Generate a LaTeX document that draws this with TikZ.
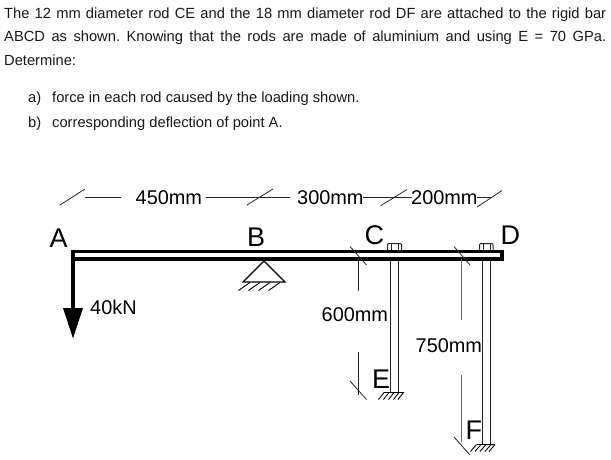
\documentclass[tikz,border=0pt]{standalone}
\usepackage{fontspec}
\setmainfont{Liberation Sans}
\frenchspacing
\begin{document}
\begin{tikzpicture}[x=1pt,y=-1pt,
  txt/.style={anchor=base west,inner sep=0pt,font=\fontsize{14.7}{16}\selectfont,text=black!90},
  dim/.style={inner sep=0pt,font=\fontsize{19.9}{22}\selectfont,anchor=base west,text=black},
  ptlabel/.style={inner sep=0pt,font=\fontsize{27}{28}\selectfont,anchor=base west,text=black},
  thinline/.style={line width=0.8pt,black!85},
  grayline/.style={line width=1.2pt,black!60},
  barline/.style={line width=3.3pt,black},
  rodline/.style={line width=1pt,black!85},
  hatchline/.style={line width=0.9pt,black}]
\useasboundingbox (0,0) rectangle (611,459);
\fill[white] (0,0) rectangle (611,459);
% statement
\node[txt] (t1) at (4,18) {\makebox[602pt][s]{The 12 mm diameter rod CE and the 18 mm diameter rod DF are attached to the rigid bar}};
\node[txt] (t2) at (4,41) {\makebox[602pt][s]{ABCD as shown. Knowing that the rods are made of aluminium and using E = 70 GPa.}};
\node[txt] (t3) at (4,65) {Determine:};
\node[txt] (t4) at (28,102) {a)};
\node[txt] (t5) at (52,102) {force in each rod caused by the loading shown.};
\node[txt] (t6) at (28,127) {b)};
\node[txt] (t7) at (52,127) {corresponding deflection of point A.};
% horizontal dimensions
\node[dim] (d1) at (135.5,204) {450mm};
\node[dim] (d2) at (297,204) {300mm};
\node[dim] (d3) at (411,204) {200mm};
\coordinate (k1) at (85,197);
\coordinate (k2) at (121,197);
\coordinate (k3) at (206,197);
\coordinate (k4) at (290,197);
\coordinate (k5) at (363,197);
\coordinate (k6) at (412,197);
\coordinate (k7) at (477,197.5);
\coordinate (k8) at (491,197.5);
\draw[thinline] (k1) -- (k2);
\draw[thinline] (k3) -- (k4);
\draw[thinline] (k5) -- (k6);
\draw[thinline] (k7) -- (k8);
\draw[thinline] (60,205) -- (85,189);
\draw[thinline] (247,205) -- (273,189);
\draw[thinline] (381,205.5) -- (407,189.5);
\draw[thinline] (477,207) -- (502,190.5);
% bar
\draw[barline,line join=miter] (73,251.5) -- (502,251.5) -- (502,259) -- (73,259);
\draw[barline] (73,249.9) -- (73,310);
% load
\fill[black] (63,308) -- (83,308) -- (73,338.5) -- cycle;
\node[dim] (load) at (90,314.5) {40kN};
% point labels
\node[ptlabel] (A) at (49.5,247.5) {A};
\node[ptlabel] (B) at (247,246.5) {B};
\node[ptlabel] (C) at (364.5,244) {C};
\node[ptlabel] (D) at (500.5,244) {D};
\node[ptlabel] (E) at (372,388.5) {E};
\node[ptlabel] (F) at (465.5,439.5) {F};
% support B
\draw[line width=1.4pt,black,line join=miter] (264,261) -- (243,282) -- (285,282) -- cycle;
\foreach \x in {250,260,270,280} \draw[hatchline] (\x,282.5) -- ++(-11.5,8);
% rod CE
\draw[rodline] (390.3,260) -- (390.3,392);
\draw[rodline] (398.7,260) -- (398.7,392);
\draw[rodline,rounded corners=1pt] (387.5,250) -- (387.5,243.5) -- (401.5,243.5) -- (401.5,250);
\draw[rodline] (391,243.5) -- (391,250);
\draw[rodline] (398,243.5) -- (398,250);
\draw[hatchline,line width=1.1pt] (384,392.5) -- (403.5,392.5);
\foreach \x in {384,389,394,399,403.5} \draw[hatchline] (\x,392.5) -- ++(-5.5,7);
% rod DF
\draw[rodline] (482.5,260) -- (482.5,444);
\draw[rodline] (490.3,260) -- (490.3,444);
\draw[rodline,rounded corners=1pt] (479.5,250) -- (479.5,243.5) -- (493,243.5) -- (493,250);
\draw[rodline] (483,243.5) -- (483,250);
\draw[rodline] (490,243.5) -- (490,250);
\draw[hatchline,line width=1.1pt] (476.5,444.5) -- (495,444.5);
\foreach \x in {476.5,481,486,491,495} \draw[hatchline] (\x,444.5) -- ++(-6,7);
% dimension 600 mm
\node[dim] (d4) at (321.5,321) {600mm};
\draw[thinline] (358,259) -- (358,291);
\draw[thinline] (358,352) -- (358,395);
\draw[thinline] (350,246.5) -- (366.5,265);
\draw[thinline] (350,381) -- (366.5,399.5);
% dimension 750 mm
\node[dim] (d5) at (415.5,352) {750mm};
\draw[grayline] (461.7,259) -- (461.7,320);
\draw[grayline] (461.7,375) -- (461.7,442);
\draw[thinline] (454,246.5) -- (470,265);
\draw[thinline] (454,437) -- (470,455);
\end{tikzpicture}
\end{document}
